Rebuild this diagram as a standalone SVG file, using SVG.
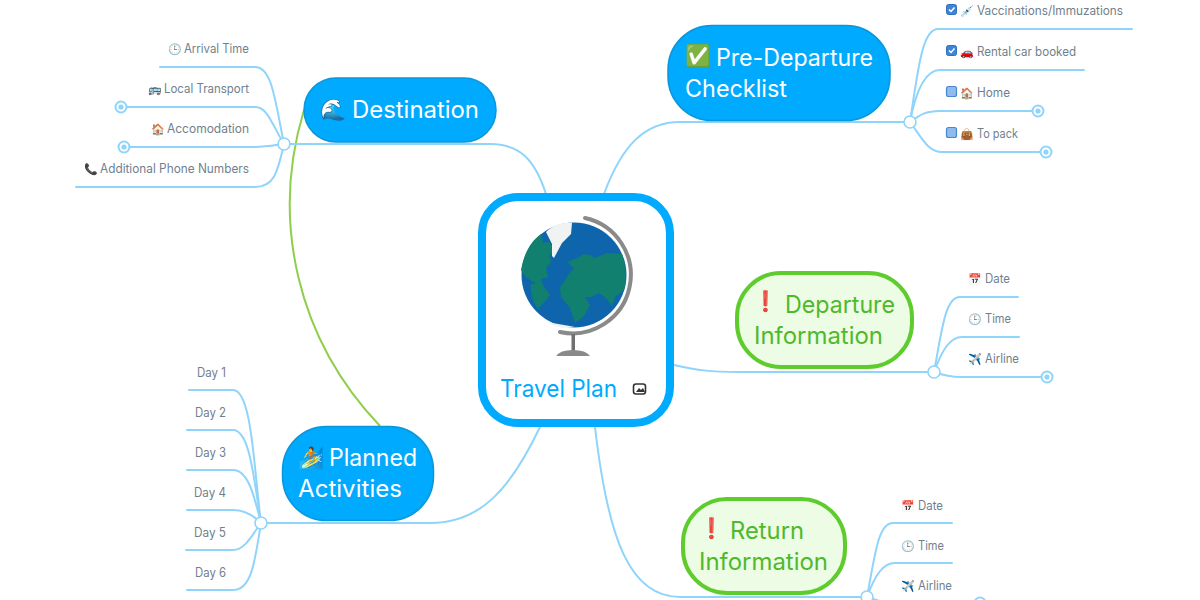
<svg xmlns="http://www.w3.org/2000/svg" width="1200" height="600" viewBox="0 0 1200 600">
<style>
text{font-family:"Inter","Roboto","Liberation Sans",sans-serif}
.c{fill:none;stroke:#8fd4fa;stroke-width:2;stroke-linecap:round}
.hub{fill:#fff;stroke:#8fd4fa;stroke-width:1.6}
.end{fill:#fff;stroke:#8fd4fa;stroke-width:2}
.dot{fill:#8fd4fa}
.t{font-size:12.5px;fill:#717f8d}
.big{font-size:24px;fill:#fff}
.grn{font-size:24px;fill:#4fb92c}
.blue{fill:#00aaff;stroke:#0a97dc;stroke-width:1.5}
.lime{fill:#edfce4;stroke:#5fcc2e;stroke-width:4}
.cb{fill:#3d85d8;stroke:#2f6fbd;stroke-width:1}
.cu{fill:#8fbcec;stroke:#4a86cf;stroke-width:1.2}
.ck{fill:none;stroke:#fff;stroke-width:1.5}
.em{font-size:11px}
.eb{font-size:21px}
.land{fill:#12806f}
.ice{fill:#f1f3f3}
</style>
<defs>
<g id="endmark"><circle class="end" r="5.500"/><circle class="dot" r="2.600"/></g>
</defs>
<g id="connectors">
<path d="M304 110C270 222 298 340 380 426" fill="none" stroke="#8fce4a" stroke-width="2"/>
<path class="c" d="M284 144H490C520 144 535 160 546 194"/>
<path class="c" d="M604 194C622 145 645 122 680 122H910"/>
<path class="c" d="M674 365C695 370 710 372 740 372H934"/>
<path class="c" d="M595 427C608 540 630 597 680 597H867"/>
<path class="c" d="M540 427C510 490 480 523 430 523H261"/>
<path class="c" d="M910 122C918 70 922 29 938 29H1132"/>
<path class="c" d="M910 122C916 90 925 70 940 70H1084"/>
<path class="c" d="M910 122C920 115 925 111 940 111H1032"/>
<path class="c" d="M910 122C922 138 928 152 942 152H1040"/>
<path class="c" d="M284 144C275 100 272 67 255 67H160"/>
<path class="c" d="M284 144C272 125 268 107 255 107H127"/>
<path class="c" d="M284 144C270 146 265 147 255 147H130"/>
<path class="c" d="M284 144C278 170 275 187 255 187H76"/>
<path class="c" d="M934 372C942 330 945 297 960 297H1018"/>
<path class="c" d="M934 372C942 350 950 337 962 337H1019"/>
<path class="c" d="M934 372C942 375 950 377 962 377H1041"/>
<path class="c" d="M867 597C875 555 878 523 893 523H952"/>
<path class="c" d="M867 597C875 575 883 563 895 563H952"/>
<path class="c" d="M867 597C875 600 883 603 895 603H974"/>
<path class="c" d="M261 523C254 470 252 390 233 390H189"/>
<path class="c" d="M261 523C254 480 250 430 233 430H187"/>
<path class="c" d="M261 523C254 495 248 470 233 470H187"/>
<path class="c" d="M261 523C253 515 245 510 233 510H187"/>
<path class="c" d="M261 523C252 535 245 550 233 550H186"/>
<path class="c" d="M261 523C255 560 252 590 233 590H187"/>
<circle class="hub" cx="910" cy="122" r="6"/>
<circle class="hub" cx="284" cy="144" r="6"/>
<circle class="hub" cx="934" cy="372" r="6"/>
<circle class="hub" cx="867" cy="597" r="6"/>
<circle class="hub" cx="261" cy="523" r="6"/>
<use href="#endmark" x="1038" y="111"/>
<use href="#endmark" x="1046" y="152"/>
<use href="#endmark" x="121" y="107"/>
<use href="#endmark" x="124" y="147"/>
<use href="#endmark" x="1047" y="377"/>
<use href="#endmark" x="980" y="603"/>
</g>
<g id="central">
<rect x="482" y="197" width="188" height="226" rx="36" fill="#fff" stroke="#00aaff" stroke-width="8"/>
<path d="M585 218A58 58 0 0 1 560 332" fill="none" stroke="#8a8a8a" stroke-width="4" stroke-linecap="round"/>
<rect x="571.500" y="334" width="3.500" height="18" fill="#707070"/>
<path d="M556 356Q560 350 573 350Q586 350 590 356Z" fill="#8a8a8a"/>
<circle cx="574" cy="275" r="52.500" fill="#0f65ab"/>
<path class="land" d="M541 234C531 241 524 253 521 270C524 276 530 280 535 283L543 285L541 279L548 277L546 268L551 262L549 256L555 250L549 242L543 243Z"/>
<path class="land" d="M531 284L541 283L550 295L546 300L538 309C533 302 530 293 531 284Z"/>
<path class="land" d="M568 275L574 268L567 262L578 258L584 254L590 255L595 258L607 253L622 254C626 264 627 280 624 290L615 297L612 306L606 298L599 293L591 297L585 297L588 302L590 305L584 316L575 323L570 308L561 297L560 287L566 279Z"/>
<path class="ice" d="M546 232C553 225 563 222 572 223L571 234L562 243L554 258L552 256L552 244Z"/>
<path class="ice" d="M547 322C556 324 566 325 575 327L563 328C557 327 551 325 547 322Z"/>
<text x="500" y="397" font-size="24" fill="#00aaff" textLength="117" lengthAdjust="spacingAndGlyphs">Travel Plan</text>
<rect x="633.500" y="384" width="12" height="10" rx="2.500" fill="#fff" stroke="#333" stroke-width="1.600"/>
<path d="M636 392L639 388L641 390L643 388L645 392Z" fill="#333"/>
</g>
<g id="destination">
<rect class="blue" x="304" y="78" width="192" height="64" rx="32"/>
<text class="eb" x="320" y="117">🌊</text>
<text class="big" x="352" y="118" textLength="127" lengthAdjust="spacingAndGlyphs">Destination</text>
</g>
<g id="pre-departure">
<rect class="blue" x="668" y="25.500" width="222" height="95" rx="44"/>
<text class="eb" x="685" y="63">✅</text>
<text class="big" x="716" y="66" textLength="157" lengthAdjust="spacingAndGlyphs">Pre-Departure</text>
<text class="big" x="685" y="97" textLength="102" lengthAdjust="spacingAndGlyphs">Checklist</text>
</g>
<g id="departure">
<rect class="lime" x="737" y="273" width="175" height="94" rx="44"/>
<text x="753" y="308" font-size="20">❗</text>
<text class="grn" x="785" y="313" textLength="110" lengthAdjust="spacingAndGlyphs">Departure</text>
<text class="grn" x="754" y="344" textLength="129" lengthAdjust="spacingAndGlyphs">Information</text>
</g>
<g id="return">
<rect class="lime" x="683" y="499" width="162" height="94" rx="44"/>
<text x="699" y="535" font-size="20">❗</text>
<text class="grn" x="730" y="539" textLength="74" lengthAdjust="spacingAndGlyphs">Return</text>
<text class="grn" x="699" y="570" textLength="129" lengthAdjust="spacingAndGlyphs">Information</text>
</g>
<g id="planned">
<rect class="blue" x="282.500" y="426.500" width="151" height="94" rx="44"/>
<text class="eb" x="298" y="465">🏄</text>
<text class="big" x="329" y="466" textLength="88" lengthAdjust="spacingAndGlyphs">Planned</text>
<text class="big" x="298" y="497" textLength="104" lengthAdjust="spacingAndGlyphs">Activities</text>
</g>
<g id="checklist-items">
<rect class="cb" x="946.500" y="4.500" width="10" height="10" rx="2"/><path class="ck" d="M949 9.500L951 11.500L954.500 7.500"/>
<text class="em" x="960" y="15">💉</text><text class="t" x="977" y="15" textLength="146" lengthAdjust="spacingAndGlyphs">Vaccinations/Immuzations</text>
<rect class="cb" x="946.500" y="45.500" width="10" height="10" rx="2"/><path class="ck" d="M949 50.500L951 52.500L954.500 48.500"/>
<text class="em" x="960" y="56">🚗</text><text class="t" x="977" y="56" textLength="99" lengthAdjust="spacingAndGlyphs">Rental car booked</text>
<rect class="cu" x="946.500" y="86.500" width="10" height="10" rx="2"/>
<text class="em" x="960" y="97">🏠</text><text class="t" x="977" y="97" textLength="33" lengthAdjust="spacingAndGlyphs">Home</text>
<rect class="cu" x="946.500" y="127.500" width="10" height="10" rx="2"/>
<text class="em" x="960" y="138">👜</text><text class="t" x="977" y="138" textLength="41" lengthAdjust="spacingAndGlyphs">To pack</text>
</g>
<g id="destination-items">
<text class="em" x="168" y="53">🕒</text><text class="t" x="184" y="53" textLength="65" lengthAdjust="spacingAndGlyphs">Arrival Time</text>
<text class="em" x="148" y="93">🚌</text><text class="t" x="164" y="93" textLength="85" lengthAdjust="spacingAndGlyphs">Local Transport</text>
<text class="em" x="151" y="133">🏠</text><text class="t" x="167" y="133" textLength="82" lengthAdjust="spacingAndGlyphs">Accomodation</text>
<text class="em" x="84" y="173">📞</text><text class="t" x="100" y="173" textLength="149" lengthAdjust="spacingAndGlyphs">Additional Phone Numbers</text>
</g>
<g id="departure-items">
<text class="em" x="968" y="283">📅</text><text class="t" x="985" y="283" textLength="25" lengthAdjust="spacingAndGlyphs">Date</text>
<text class="em" x="968" y="323">🕒</text><text class="t" x="985" y="323" textLength="26" lengthAdjust="spacingAndGlyphs">Time</text>
<text class="em" x="968" y="363">✈️</text><text class="t" x="985" y="363" textLength="34" lengthAdjust="spacingAndGlyphs">Airline</text>
</g>
<g id="return-items">
<text class="em" x="901" y="510">📅</text><text class="t" x="918" y="510" textLength="25" lengthAdjust="spacingAndGlyphs">Date</text>
<text class="em" x="901" y="550">🕒</text><text class="t" x="918" y="550" textLength="26" lengthAdjust="spacingAndGlyphs">Time</text>
<text class="em" x="901" y="590">✈️</text><text class="t" x="918" y="590" textLength="34" lengthAdjust="spacingAndGlyphs">Airline</text>
</g>
<g id="day-items">
<text class="t" x="197" y="377" textLength="29" lengthAdjust="spacingAndGlyphs">Day 1</text>
<text class="t" x="195" y="417" textLength="31" lengthAdjust="spacingAndGlyphs">Day 2</text>
<text class="t" x="195" y="457" textLength="31" lengthAdjust="spacingAndGlyphs">Day 3</text>
<text class="t" x="194" y="497" textLength="32" lengthAdjust="spacingAndGlyphs">Day 4</text>
<text class="t" x="194" y="537" textLength="32" lengthAdjust="spacingAndGlyphs">Day 5</text>
<text class="t" x="195" y="577" textLength="31" lengthAdjust="spacingAndGlyphs">Day 6</text>
</g>
</svg>
